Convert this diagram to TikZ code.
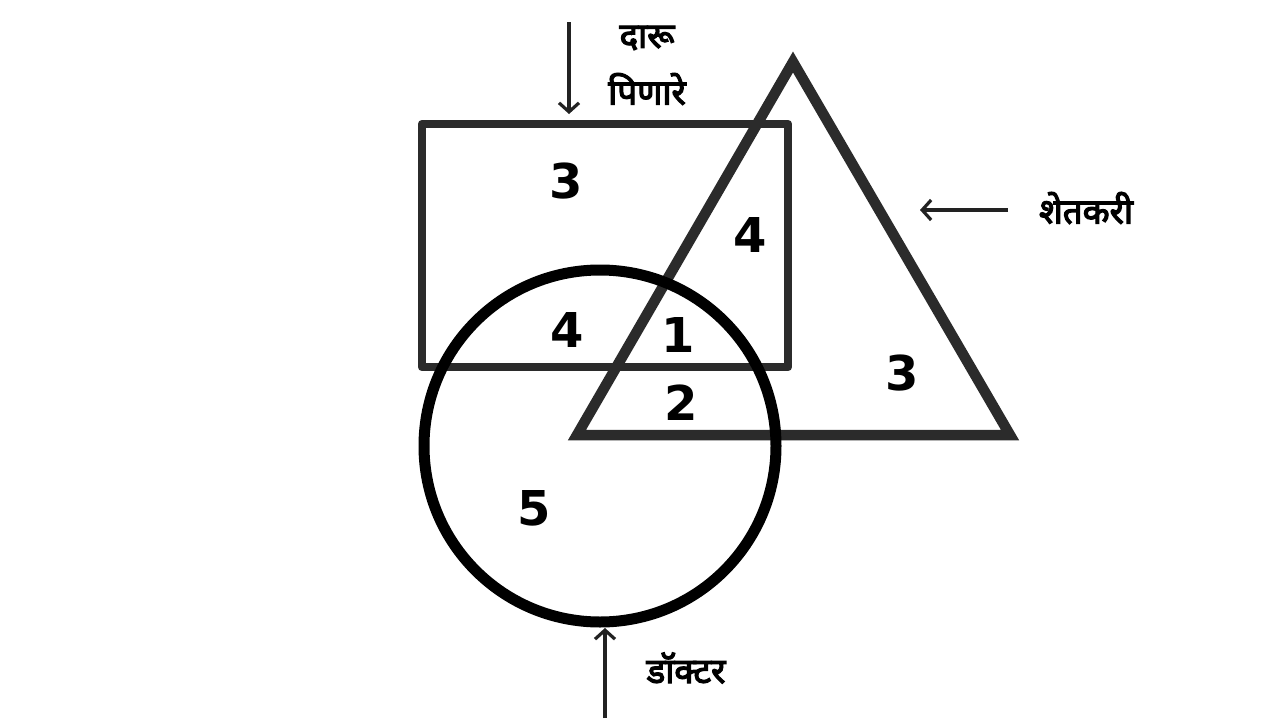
\documentclass[tikz,border=0pt]{standalone}
\usepackage{fontspec}
\usetikzlibrary{arrows.meta}
\newfontfamily\deva[Script=Devanagari, FakeBold=3.5]{Noto Sans}
\newfontfamily\digits{DejaVu Sans}
\definecolor{ink}{HTML}{2B2B2B}
\definecolor{arr}{HTML}{222222}
\tikzset{
  shapeline/.style={draw=ink, line width=8.5pt, line join=round},
  circline/.style={draw=black, line width=11pt},
  num/.style={font=\digits\bfseries\fontsize{48}{48}\selectfont, text=black, inner sep=0pt},
  lbl/.style={font=\deva\fontsize{35}{35}\selectfont, text=black, inner sep=0pt},
  ptr/.style={draw=arr, line width=3.2pt, -{Straight Barb[length=9pt,width=20pt,line width=3.2pt]}}
}
\begin{document}
\begin{tikzpicture}[x=1pt,y=-1pt]
\useasboundingbox[fill=white] (0,0) rectangle (1280,720);
% rectangle
\draw[shapeline] (422,124) rectangle (788,367);
% triangle
\draw[shapeline, line width=10.5pt, line join=miter] (793,62) -- (1010,435) -- (577,435) -- cycle;
% circle
\draw[circline] (600,446) circle (176);
% numbers
\node[num] (n1) at (566,181) {3};
\node[num] (n2) at (750,235) {4};
\node[num] (n3) at (567,330) {4};
\node[num] (n4) at (678,335) {1};
\node[num] (n5) at (681,403) {2};
\node[num] (n6) at (902,373) {3};
\node[num] (n7) at (534,508) {5};
% labels
\node[lbl] (drink1) at (647,38) {दारू};
\node[lbl] (drink2) at (647,89) {पिणारे};
\node[lbl] (farmer) at (1086,208) {शेतकरी};
\node[lbl] (doctor) at (686,668) {डॉक्टर};
% arrows
\coordinate (a1s) at (569,22);
\coordinate (a1e) at (569,114);
\coordinate (a2s) at (1008,210);
\coordinate (a2e) at (920,210);
\coordinate (a3s) at (605,718);
\coordinate (a3e) at (605,628);
\draw[ptr] (a1s) -- (a1e);
\draw[ptr] (a2s) -- (a2e);
\draw[ptr] (a3s) -- (a3e);
\end{tikzpicture}
\end{document}
